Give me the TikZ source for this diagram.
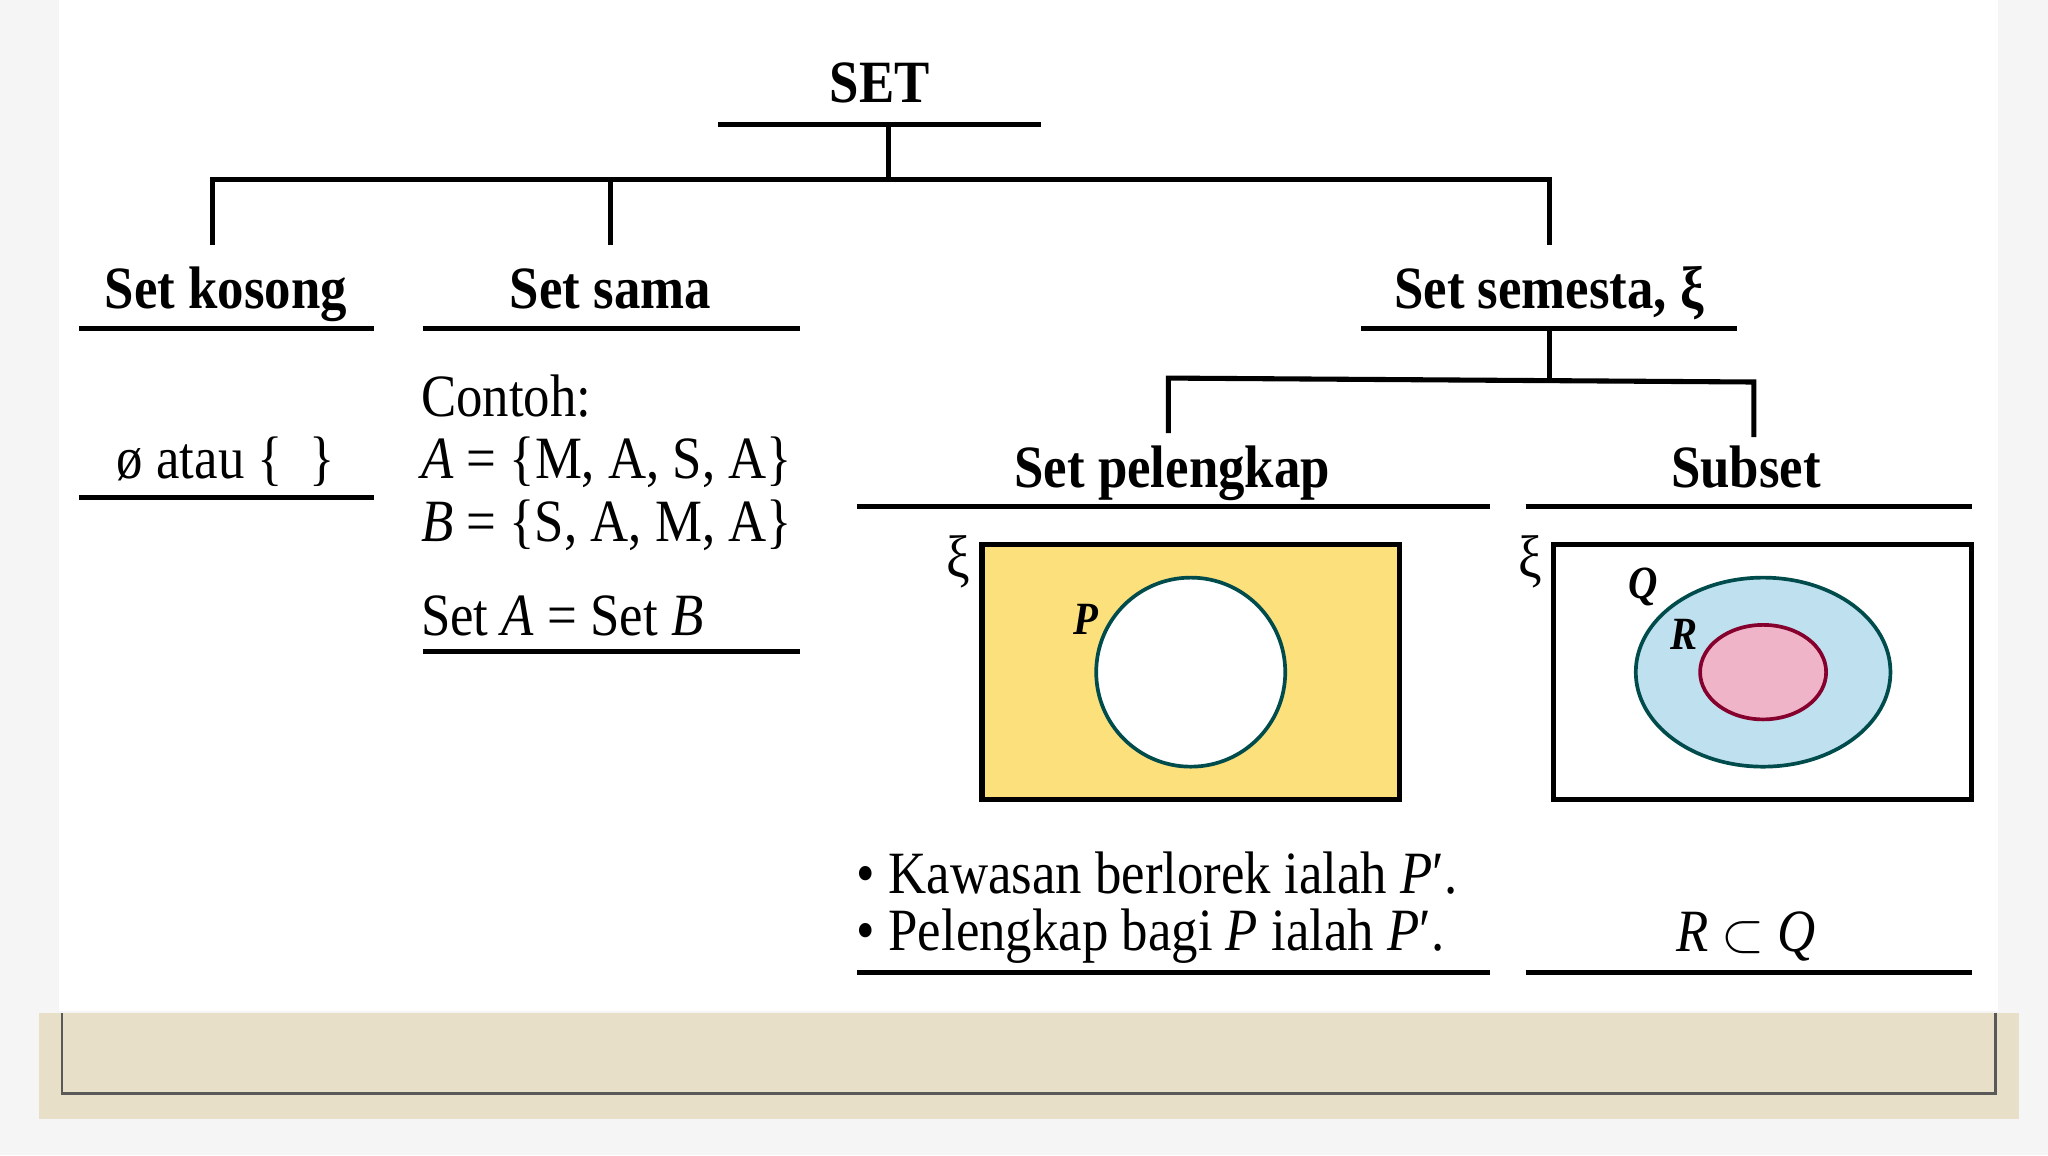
\documentclass[tikz,border=0pt]{standalone}
\usepackage{fontspec}
\setmainfont{Liberation Serif}[FakeStretch=0.88]
\usepackage{amssymb}
\usetikzlibrary{positioning}
\definecolor{beige}{HTML}{E8DFC8}
\definecolor{pale}{HTML}{F5F5F5}
\definecolor{sun}{HTML}{FBE07C}
\definecolor{sky}{HTML}{BFE0EE}
\definecolor{rose}{HTML}{F0B4C8}
\tikzset{
  head/.style={font=\fontsize{13}{15}\selectfont\bfseries, inner sep=0pt, anchor=base},
  txt/.style={font=\fontsize{13}{15}\selectfont, inner sep=0pt},
  lbl/.style={font=\fontsize{10}{12}\selectfont\itshape\bfseries, inner sep=0pt},
  rule/.style={line width=1.1pt}
}
\begin{document}
\begin{tikzpicture}[x=0.01cm,y=-0.01cm]
\useasboundingbox (0,0) rectangle (1560,880);
\fill[pale] (0,0) rectangle (1560,880);
\fill[white] (45,0) rectangle (1522,770);
\fill[beige] (30,772) rectangle (1538,852);
\draw[gray!70!black,line width=0.5pt] (47,772) -- (47,833) -- (1520,833) -- (1520,772);

% headings
\node[head] (set) at (670,78) {SET};
\node[head] (kosong) at (172,235) {Set kosong};
\node[head] (sama) at (465,235) {Set sama};
\node[head] (semesta) at (1180,235) {Set semesta, ξ};
\node[head] (pelengkap) at (893,371) {Set pelengkap};
\node[head] (subset) at (1330,371) {Subset};

% tree lines
\coordinate (j0) at (677,95);
\coordinate (j1) at (677,137);
\draw[rule] (547,95) -- (793,95);
\draw[rule] (j0) -- (j1);
\draw[rule] (162,187) |- (j1) -| (1180,187);
\draw[rule] (465,137) -- (465,187);
\coordinate (j2) at (1180,250);
\coordinate (j3) at (1180,288);
\draw[rule] (j2) -- (j3);
\draw[rule] (890,330) -- (890,288) -- (1336,291) -- (1336,333);

% underlines
\draw[rule] (60,250) -- (285,250);
\draw[rule] (322,250) -- (609,250);
\draw[rule] (1037,250) -- (1323,250);
\draw[rule] (60,379) -- (285,379);
\draw[rule] (322,496) -- (609,496);
\draw[rule] (653,386) -- (1135,386);
\draw[rule] (1162,386) -- (1502,386);
\draw[rule] (653,741) -- (1135,741);
\draw[rule] (1162,741) -- (1502,741);

% texts
\node[txt] (empty) at (172,352) {ø atau \{ \ \}};
\node[txt,anchor=west] (contoh) at (320,302) {Contoh:};
\node[txt,anchor=west] (seta) at (320,352) {\textit{A} = \{M, A, S, A\}};
\node[txt,anchor=west] (setb) at (320,400) {\textit{B} = \{S, A, M, A\}};
\node[txt,anchor=west] (equal) at (320,469) {Set \textit{A} = Set \textit{B}};
\node[txt,anchor=west] (kawasan) at (652,665) {• Kawasan berlorek ialah \textit{P}′.};
\node[txt,anchor=west] (bagi) at (652,713) {• Pelengkap bagi \textit{P} ialah \textit{P}′.};
\node[txt] (rq) at (1330,713) {\textit{R} $\subset$ \textit{Q}};

% complement diagram
\draw[line width=1.1pt,fill=sun] (748,415) rectangle (1066,609);
\draw[line width=0.8pt,draw=teal!60!black,fill=white] (907,512) circle (72);
\node[lbl] (p) at (827,472) {P};
\node[txt] (xi1) at (730,428) {ξ};

% subset diagram
\draw[line width=1.1pt,fill=white] (1183,415) rectangle (1502,609);
\draw[line width=0.8pt,draw=teal!60!black,fill=sky] (1343,512) ellipse (97 and 72);
\draw[line width=0.8pt,draw=purple!70!black,fill=rose] (1343,512) ellipse (48 and 36);
\node[lbl] (q) at (1252,447) {Q};
\node[lbl] (r) at (1283,483) {R};
\node[txt] (xi2) at (1166,428) {ξ};
\end{tikzpicture}
\end{document}
